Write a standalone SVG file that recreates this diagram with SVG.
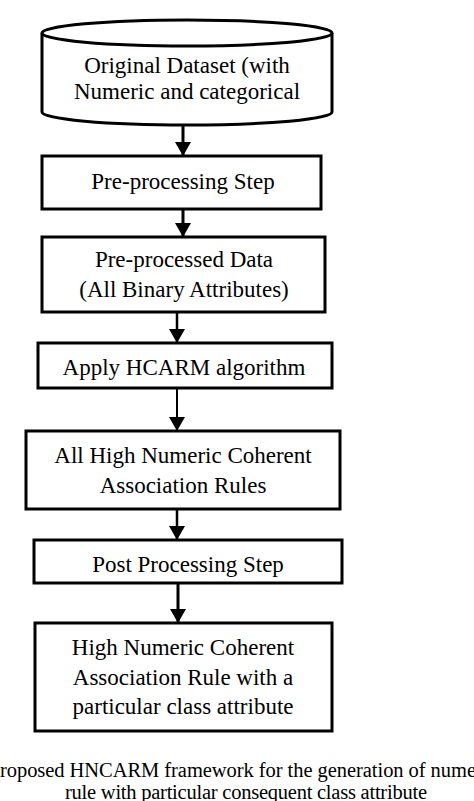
<svg xmlns="http://www.w3.org/2000/svg" width="474" height="801" viewBox="0 0 474 801">
<style>
.box{fill:#fff;stroke:#000;stroke-width:3}
text{font-family:'Liberation Serif','Times New Roman',serif;fill:#000}
.t{font-size:23px;text-anchor:middle}
.cap{font-size:20.5px}
.c{stroke:#000;fill:none}
</style>
<defs>
<marker id="ah" markerUnits="userSpaceOnUse" viewBox="0 0 14 16" refX="14" refY="8" markerWidth="14" markerHeight="16" orient="auto">
<path d="M0,0 L14,8 L0,16 z" fill="#000"/>
</marker>
</defs>
<rect width="474" height="801" fill="#fff"/>
<g id="connectors">
<line class="c" x1="183" y1="125" x2="183" y2="156" stroke-width="3" marker-end="url(#ah)"/>
<line class="c" x1="183" y1="209" x2="183" y2="237" stroke-width="3" marker-end="url(#ah)"/>
<line class="c" x1="177" y1="312" x2="177" y2="343" stroke-width="2.5" marker-end="url(#ah)"/>
<line class="c" x1="177" y1="388" x2="177" y2="431" stroke-width="2" marker-end="url(#ah)"/>
<line class="c" x1="177" y1="509" x2="177" y2="540" stroke-width="2.5" marker-end="url(#ah)"/>
<line class="c" x1="178" y1="583" x2="178" y2="623" stroke-width="3" marker-end="url(#ah)"/>
</g>
<g id="n1">
<path class="box" d="M42,33 L42,112 A145,13 0 0 0 332,112 L332,33"/>
<ellipse class="box" cx="187" cy="33" rx="145" ry="13"/>
<text class="t" x="187" y="73">Original Dataset (with</text>
<text class="t" x="187" y="99">Numeric and categorical</text>
</g>
<g id="n2">
<rect class="box" x="42" y="156" width="279" height="53"/>
<text class="t" x="183" y="189">Pre-processing Step</text>
</g>
<g id="n3">
<rect class="box" x="42" y="237" width="283" height="75"/>
<text class="t" x="184" y="267">Pre-processed Data</text>
<text class="t" x="184" y="297">(All Binary Attributes)</text>
</g>
<g id="n4">
<rect class="box" x="38" y="343" width="294" height="45"/>
<text class="t" x="184" y="375">Apply HCARM algorithm</text>
</g>
<g id="n5">
<rect class="box" x="26" y="431" width="314" height="78"/>
<text class="t" x="183" y="463">All High Numeric Coherent</text>
<text class="t" x="183" y="493">Association Rules</text>
</g>
<g id="n6">
<rect class="box" x="34" y="540" width="308" height="43"/>
<text class="t" x="188" y="572">Post Processing Step</text>
</g>
<g id="n7">
<rect class="box" x="35" y="623" width="297" height="108"/>
<text class="t" x="183" y="655">High Numeric Coherent</text>
<text class="t" x="183" y="685">Association Rule with a</text>
<text class="t" x="183" y="714">particular class attribute</text>
</g>
<g id="caption">
<text class="cap" x="0" y="777" textLength="476" lengthAdjust="spacing">roposed HNCARM framework for the generation of nume</text>
<text class="cap" x="65" y="799" textLength="362" lengthAdjust="spacing">rule with particular consequent class attribute</text>
</g>
</svg>
